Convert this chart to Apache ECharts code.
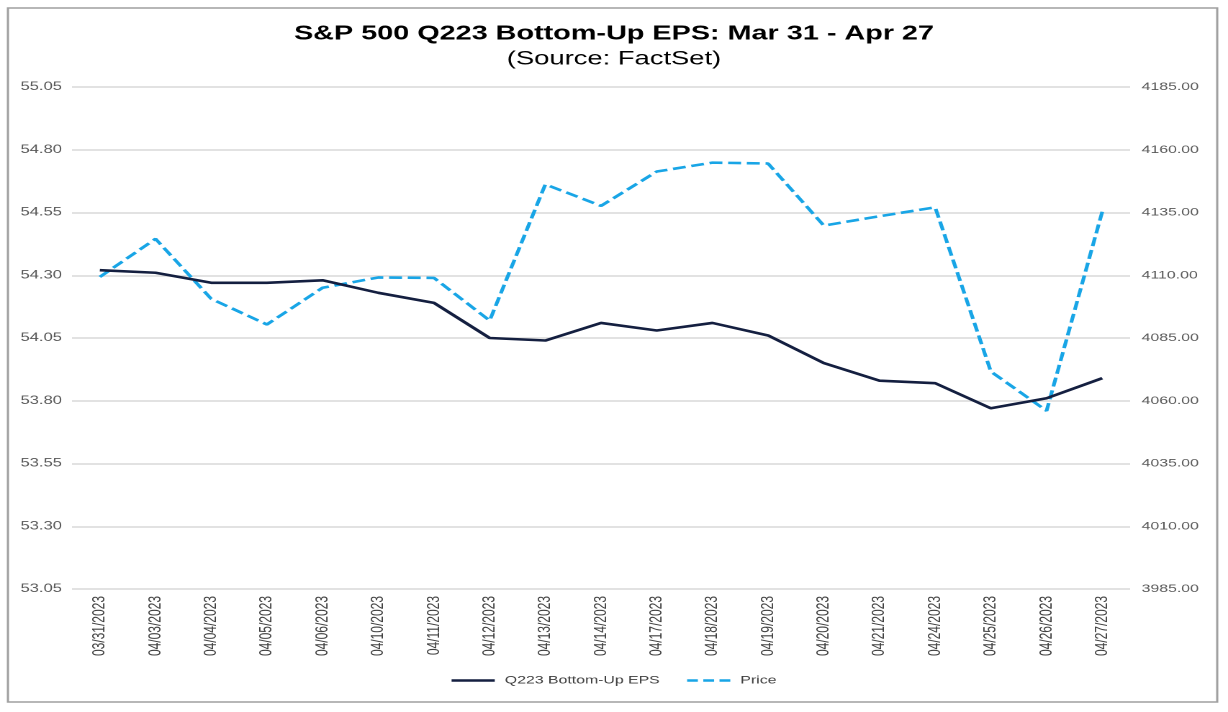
<!DOCTYPE html>
<html>
<head>
<meta charset="utf-8">
<script src="https://cdn.jsdelivr.net/npm/echarts@6/dist/echarts.min.js"></script>
<style>
html,body{margin:0;padding:0;background:#fff;overflow:hidden;width:1228px;height:712px;}
#chart{width:853px;height:712px;transform:scaleX(1.43962);transform-origin:0 0;}
</style>
</head>
<body>
<div id="chart"></div>
<script>
const categories = ["03/31/2023","04/03/2023","04/04/2023","04/05/2023","04/06/2023","04/10/2023","04/11/2023","04/12/2023","04/13/2023","04/14/2023","04/17/2023","04/18/2023","04/19/2023","04/20/2023","04/21/2023","04/24/2023","04/25/2023","04/26/2023","04/27/2023"];
const epsValues = [54.32,54.31,54.27,54.27,54.28,54.23,54.19,54.05,54.04,54.11,54.08,54.11,54.06,53.95,53.88,53.87,53.77,53.81,53.89];
const priceValues = [4109.31,4124.51,4100.60,4090.38,4105.02,4109.11,4108.94,4091.95,4146.22,4137.64,4151.32,4154.87,4154.52,4129.79,4133.52,4137.04,4071.63,4055.99,4135.35];
const epsAxis = {min:53.05, max:55.05, interval:0.25};
const priceAxis = {min:3985, max:4185, interval:25};
const titleText = 'S&P 500 Q223 Bottom-Up EPS: Mar 31 - Apr 27';
const subtitleText = '(Source: FactSet)';
const seriesNames = ['Q223 Bottom-Up EPS','Price'];

const FONT = '"Liberation Sans", Arial, sans-serif';
const navy = '#141f40';
const sky = '#18a5e6';

const chart = echarts.init(document.getElementById('chart'), null, {devicePixelRatio:2});
chart.setOption({
  animation:false,
  backgroundColor:'#fff',
  graphic:[{type:'rect',shape:{x:5.5,y:8,width:840,height:694},style:{fill:'none',stroke:'#a0a0a0',lineWidth:1.5},silent:true}],
  title:{
    text:titleText,
    subtext:subtitleText,
    left:'center', top:19, itemGap:6,
    textStyle:{fontFamily:FONT,fontSize:20,fontWeight:'bold',color:'#000'},
    subtextStyle:{fontFamily:FONT,fontSize:19,color:'#000'}
  },
  legend:{
    top:670, left:'center', itemWidth:30, itemHeight:12, itemGap:19,
    textStyle:{fontFamily:FONT,fontSize:11,color:'#404040',padding:[0,0,0,2]},
    data:[
      {name:seriesNames[0],icon:'path://M0,0h30v2.6h-30z'},
      {name:seriesNames[1],icon:'path://M0,0h7.5v2.6h-7.5zM11.25,0h7.5v2.6h-7.5zM22.5,0h7.5v2.6h-7.5z'}
    ]
  },
  grid:{left:50,right:68,top:87,bottom:123},
  xAxis:{
    type:'category', data:categories, boundaryGap:true,
    axisLine:{show:false}, axisTick:{show:false},
    axisLabel:{rotate:90,fontFamily:FONT,fontSize:12,color:'#404040',margin:7,interval:0}
  },
  yAxis:[{
    type:'value', min:epsAxis.min, max:epsAxis.max, interval:epsAxis.interval,
    axisLine:{show:false}, axisTick:{show:false},
    splitLine:{lineStyle:{color:'#d9d9d9',width:1.5}},
    axisLabel:{fontFamily:FONT,fontSize:11.5,color:'#595959',margin:7,formatter:v=>v.toFixed(2)}
  },{
    type:'value', min:priceAxis.min, max:priceAxis.max, interval:priceAxis.interval,
    axisLine:{show:false}, axisTick:{show:false}, splitLine:{show:false},
    axisLabel:{fontFamily:FONT,fontSize:11,color:'#595959',margin:8,formatter:v=>v.toFixed(2)}
  }],
  series:[{
    name:seriesNames[0], type:'line', data:epsValues, yAxisIndex:0,
    symbol:'none', lineStyle:{color:navy,width:2.6}, itemStyle:{color:navy}, z:3
  },{
    name:seriesNames[1], type:'line', data:priceValues, yAxisIndex:1,
    symbol:'none', lineStyle:{color:sky,width:2.6,type:[9,4]}, itemStyle:{color:sky}, z:2
  }]
});
</script>
</body>
</html>
